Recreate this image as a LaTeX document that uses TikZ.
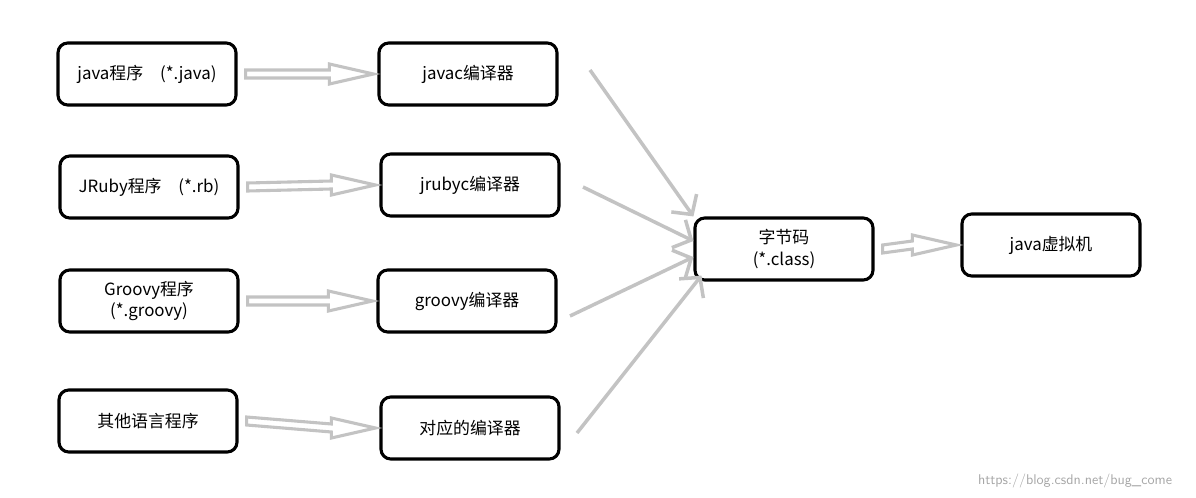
\documentclass[tikz,border=0pt]{standalone}
\usepackage{fontspec}
\newfontfamily\cjk{Noto Sans CJK SC}
\usetikzlibrary{arrows.meta, calc}
\definecolor{arrowgray}{RGB}{195, 195, 195}
\tikzset{
  box/.style={draw, line width=2.2pt, rounded corners=7pt, minimum width=4.45cm, minimum height=1.55cm, font=\cjk\fontsize{12}{15}\selectfont, align=center},
  slant/.style={draw=arrowgray, line width=2.5pt, -{Straight Barb[length=10pt, width=22pt, line width=2.5pt]}}
}
\newcommand{\hollowarrow}[2]{%
  \draw[arrowgray, line width=2.2pt, line join=miter]
    ($(#1)+(8,4)$) -- ($(#2)+(-48,4)$) -- ($(#2)+(-48,10)$) -- ($(#2)+(-4,0)$)
    -- ($(#2)+(-48,-10)$) -- ($(#2)+(-48,-4)$) -- ($(#1)+(8,-4)$) -- cycle;}

\begin{document}
\begin{tikzpicture}[x=0.025cm, y=-0.025cm]
  \useasboundingbox (0,0) rectangle (1196,498);

  % sources
  \node[box] (javasrc) at (147,74) {java程序\quad(*.java)};
  \node[box] (rbsrc) at (149,187) {JRuby程序\quad(*.rb)};
  \node[box] (groovysrc) at (149,301) {Groovy程序\\(*.groovy)};
  \node[box] (othersrc) at (148,421) {其他语言程序};

  % compilers
  \node[box] (javac) at (468,74) {javac编译器};
  \node[box] (jrubyc) at (470,185) {jrubyc编译器};
  \node[box] (groovyc) at (467,301) {groovy编译器};
  \node[box] (otherc) at (470,428) {对应的编译器};

  % bytecode and jvm
  \node[box] (bytecode) at (784,249) {字节码\\(*.class)};
  \node[box] (jvm) at (1051,245) {java虚拟机};

  % source -> compiler
  \hollowarrow{javasrc.east}{javac.west}
  \hollowarrow{rbsrc.east}{jrubyc.west}
  \hollowarrow{groovysrc.east}{groovyc.west}
  \hollowarrow{othersrc.east}{otherc.west}
  \hollowarrow{bytecode.east}{jvm.west}

  % compiler -> bytecode
  \coordinate (c1) at (590,70);
  \coordinate (c2) at (583,187);
  \coordinate (c3) at (570,316);
  \coordinate (c4) at (577,433);
  \draw[slant] (c1) -- (bytecode.north west);
  \draw[slant] (c2) -- ($(bytecode.west)+(0,-8)$);
  \draw[slant] (c3) -- ($(bytecode.west)+(0,8)$);
  \draw[slant] (c4) -- ($(bytecode.south west)+(8,-6)$);

  \node[font=\sffamily\fontsize{10}{12}\selectfont, text=gray!70] (mark) at (1075,481) {https://blog.csdn.net/bug\_come};
\end{tikzpicture}
\end{document}
